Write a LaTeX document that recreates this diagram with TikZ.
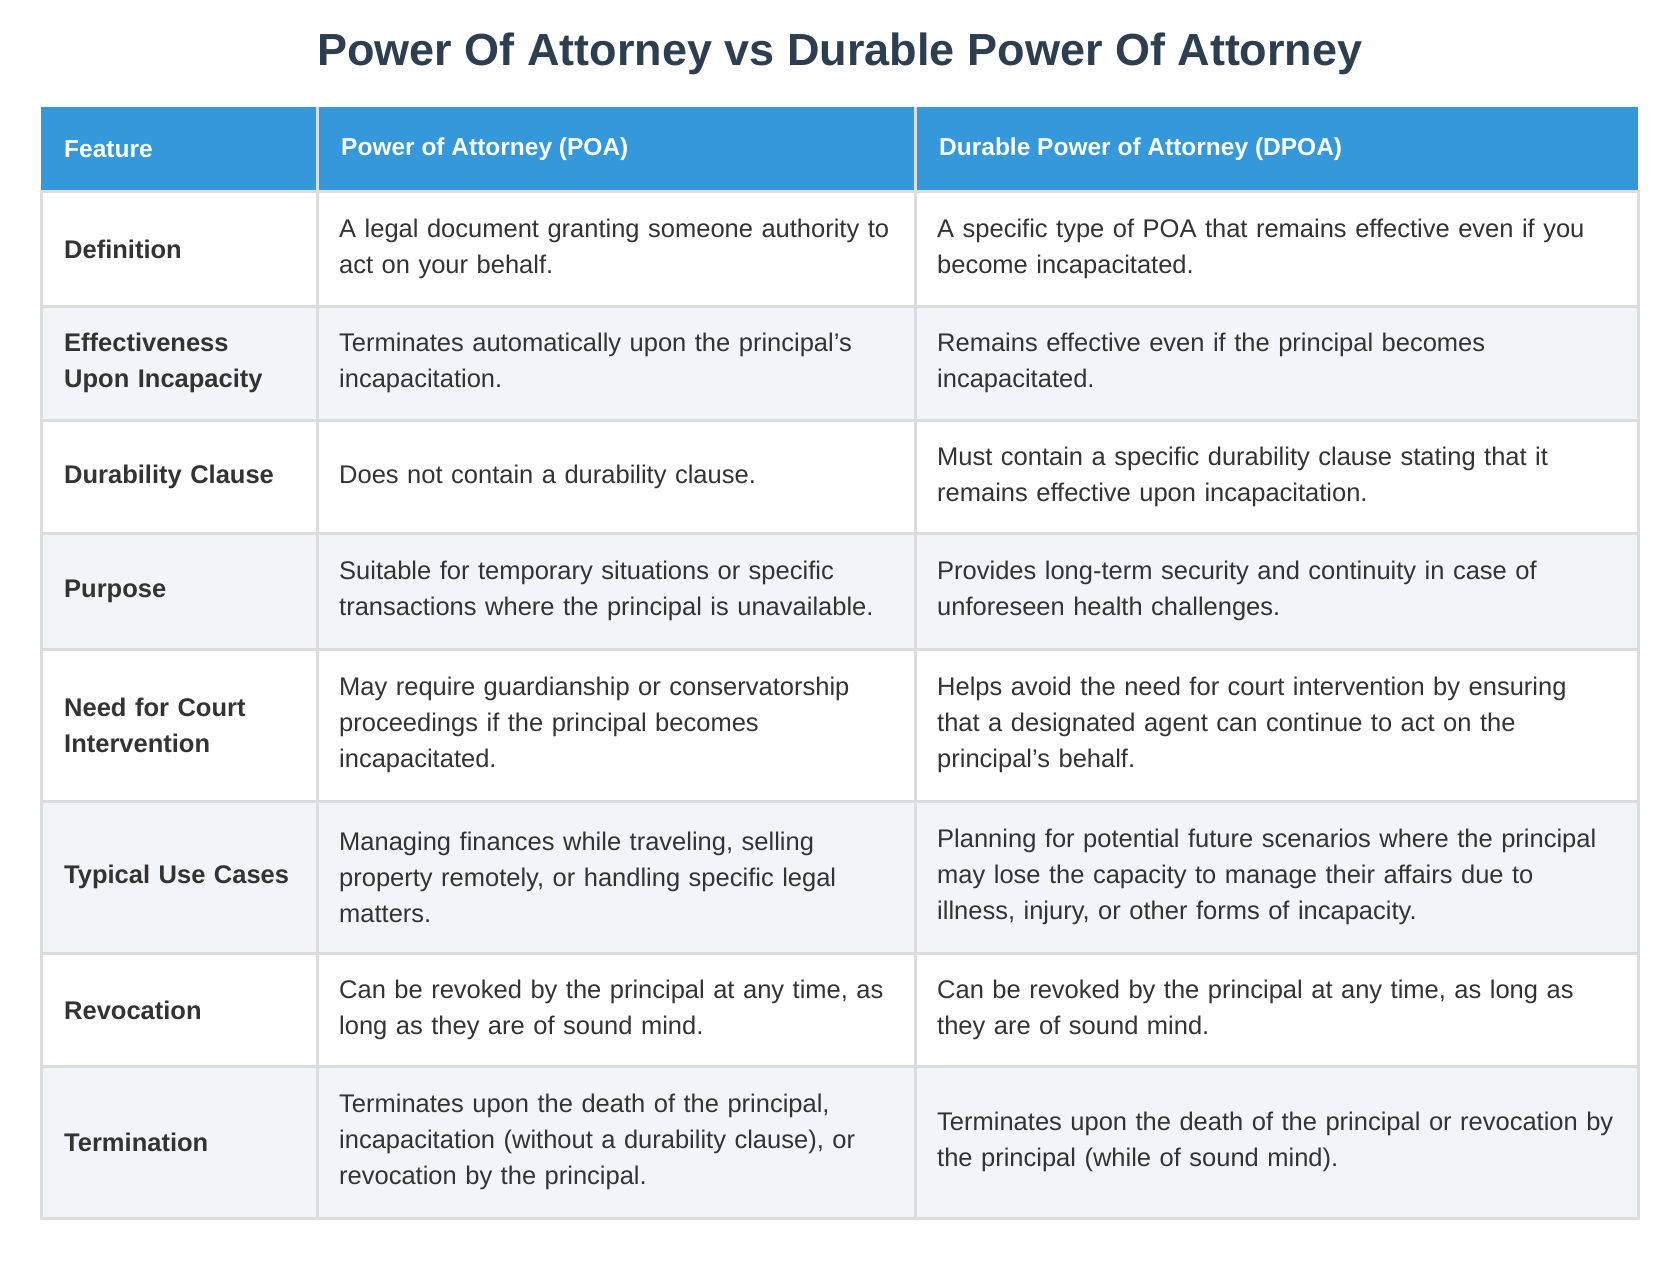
\documentclass[tikz,border=0pt]{standalone}
\usepackage{fontspec}
\setmainfont{Liberation Sans}
\definecolor{hdr}{HTML}{3498DB}
\definecolor{ttl}{HTML}{2C3E50}
\definecolor{alt}{HTML}{F1F4F9}
\definecolor{grid}{HTML}{DDDDDD}
\definecolor{txt}{HTML}{333333}
\newcommand{\nohy}{\hyphenpenalty=10000\exhyphenpenalty=10000 }
\begin{document}
\begin{tikzpicture}[x=1pt,y=-1pt,
  cell/.style={anchor=west,align=left,inner sep=0pt,text=txt,font=\fontsize{25.5}{36}\selectfont\nohy},
  feat/.style={cell,font=\fontsize{25.5}{36}\selectfont\bfseries\nohy,text width=233pt},
  c2/.style={cell,text width=556pt},
  c3/.style={cell,text width=680pt},
  hd/.style={anchor=west,inner sep=0pt,text=white,font=\fontsize{24.5}{30}\selectfont\bfseries}]
\useasboundingbox (0,0) rectangle (1680,1262);
\node[font=\fontsize{45}{50}\selectfont\bfseries,text=ttl] (title) at (840,54) {Power Of Attorney vs Durable Power Of Attorney};
\def\xa{41}\def\xb{317}\def\xc{915}\def\xd{1638}
\fill[hdr] (\xa,107) rectangle (\xd,191);
\foreach \t/\b/\c in {191/306/white,306/420/alt,420/533/white,533/649/alt,649/801/white,801/953/alt,953/1066/white,1066/1218/alt}
  \fill[\c] (\xa,\t) rectangle (\xd,\b);
\draw[grid,line width=3pt] (\xa,191) rectangle (\xd,1218);
\foreach \y in {306,420,533,649,801,953,1066} \draw[grid,line width=3pt] (\xa,\y) -- (\xd,\y);
\foreach \x in {\xb,\xc} \draw[grid,line width=3pt] (\x,107) -- (\x,1218);
\node[hd] (h1) at (64,149) {Feature};
\node[hd] (h2) at (341,149) {Power of Attorney (POA)};
\node[hd] (h3) at (939,149) {Durable Power of Attorney (DPOA)};
\node[feat] (f1) at (64,249) {Definition};
\node[c2] (a1) at (339,249) {A legal document granting someone authority to act on your behalf.};
\node[c3] (b1) at (937,249) {A specific type of POA that remains effective even if you become incapacitated.};
\node[feat] (f2) at (64,363) {Effectiveness Upon Incapacity};
\node[c2] (a2) at (339,363) {Terminates automatically upon the principal's incapacitation.};
\node[c3] (b2) at (937,363) {Remains effective even if the principal becomes incapacitated.};
\node[feat] (f3) at (64,477) {Durability Clause};
\node[c2] (a3) at (339,477) {Does not contain a durability clause.};
\node[c3] (b3) at (937,477) {Must contain a specific durability clause stating that it remains effective upon incapacitation.};
\node[feat] (f4) at (64,591) {Purpose};
\node[c2] (a4) at (339,591) {Suitable for temporary situations or specific transactions where the principal is unavailable.};
\node[c3] (b4) at (937,591) {Provides long-term security and continuity in case of unforeseen health challenges.};
\node[feat] (f5) at (64,725) {Need for Court Intervention};
\node[c2] (a5) at (339,725) {May require guardianship or conservatorship proceedings if the principal becomes incapacitated.};
\node[c3] (b5) at (937,725) {Helps avoid the need for court intervention by ensuring that a designated agent can continue to act on the principal's behalf.};
\node[feat] (f6) at (64,877) {Typical Use Cases};
\node[c2] (a6) at (339,877) {Managing finances while traveling, selling property remotely, or handling specific legal matters.};
\node[c3] (b6) at (937,877) {Planning for potential future scenarios where the principal may lose the capacity to manage their affairs due to illness, injury, or other forms of incapacity.};
\node[feat] (f7) at (64,1010) {Revocation};
\node[c2] (a7) at (339,1010) {Can be revoked by the principal at any time, as long as they are of sound mind.};
\node[c3] (b7) at (937,1010) {Can be revoked by the principal at any time, as long as they are of sound mind.};
\node[feat] (f8) at (64,1142) {Termination};
\node[c2] (a8) at (339,1142) {Terminates upon the death of the principal, incapacitation (without a durability clause), or revocation by the principal.};
\node[c3] (b8) at (937,1142) {Terminates upon the death of the principal or revocation by the principal (while of sound mind).};
\end{tikzpicture}
\end{document}
